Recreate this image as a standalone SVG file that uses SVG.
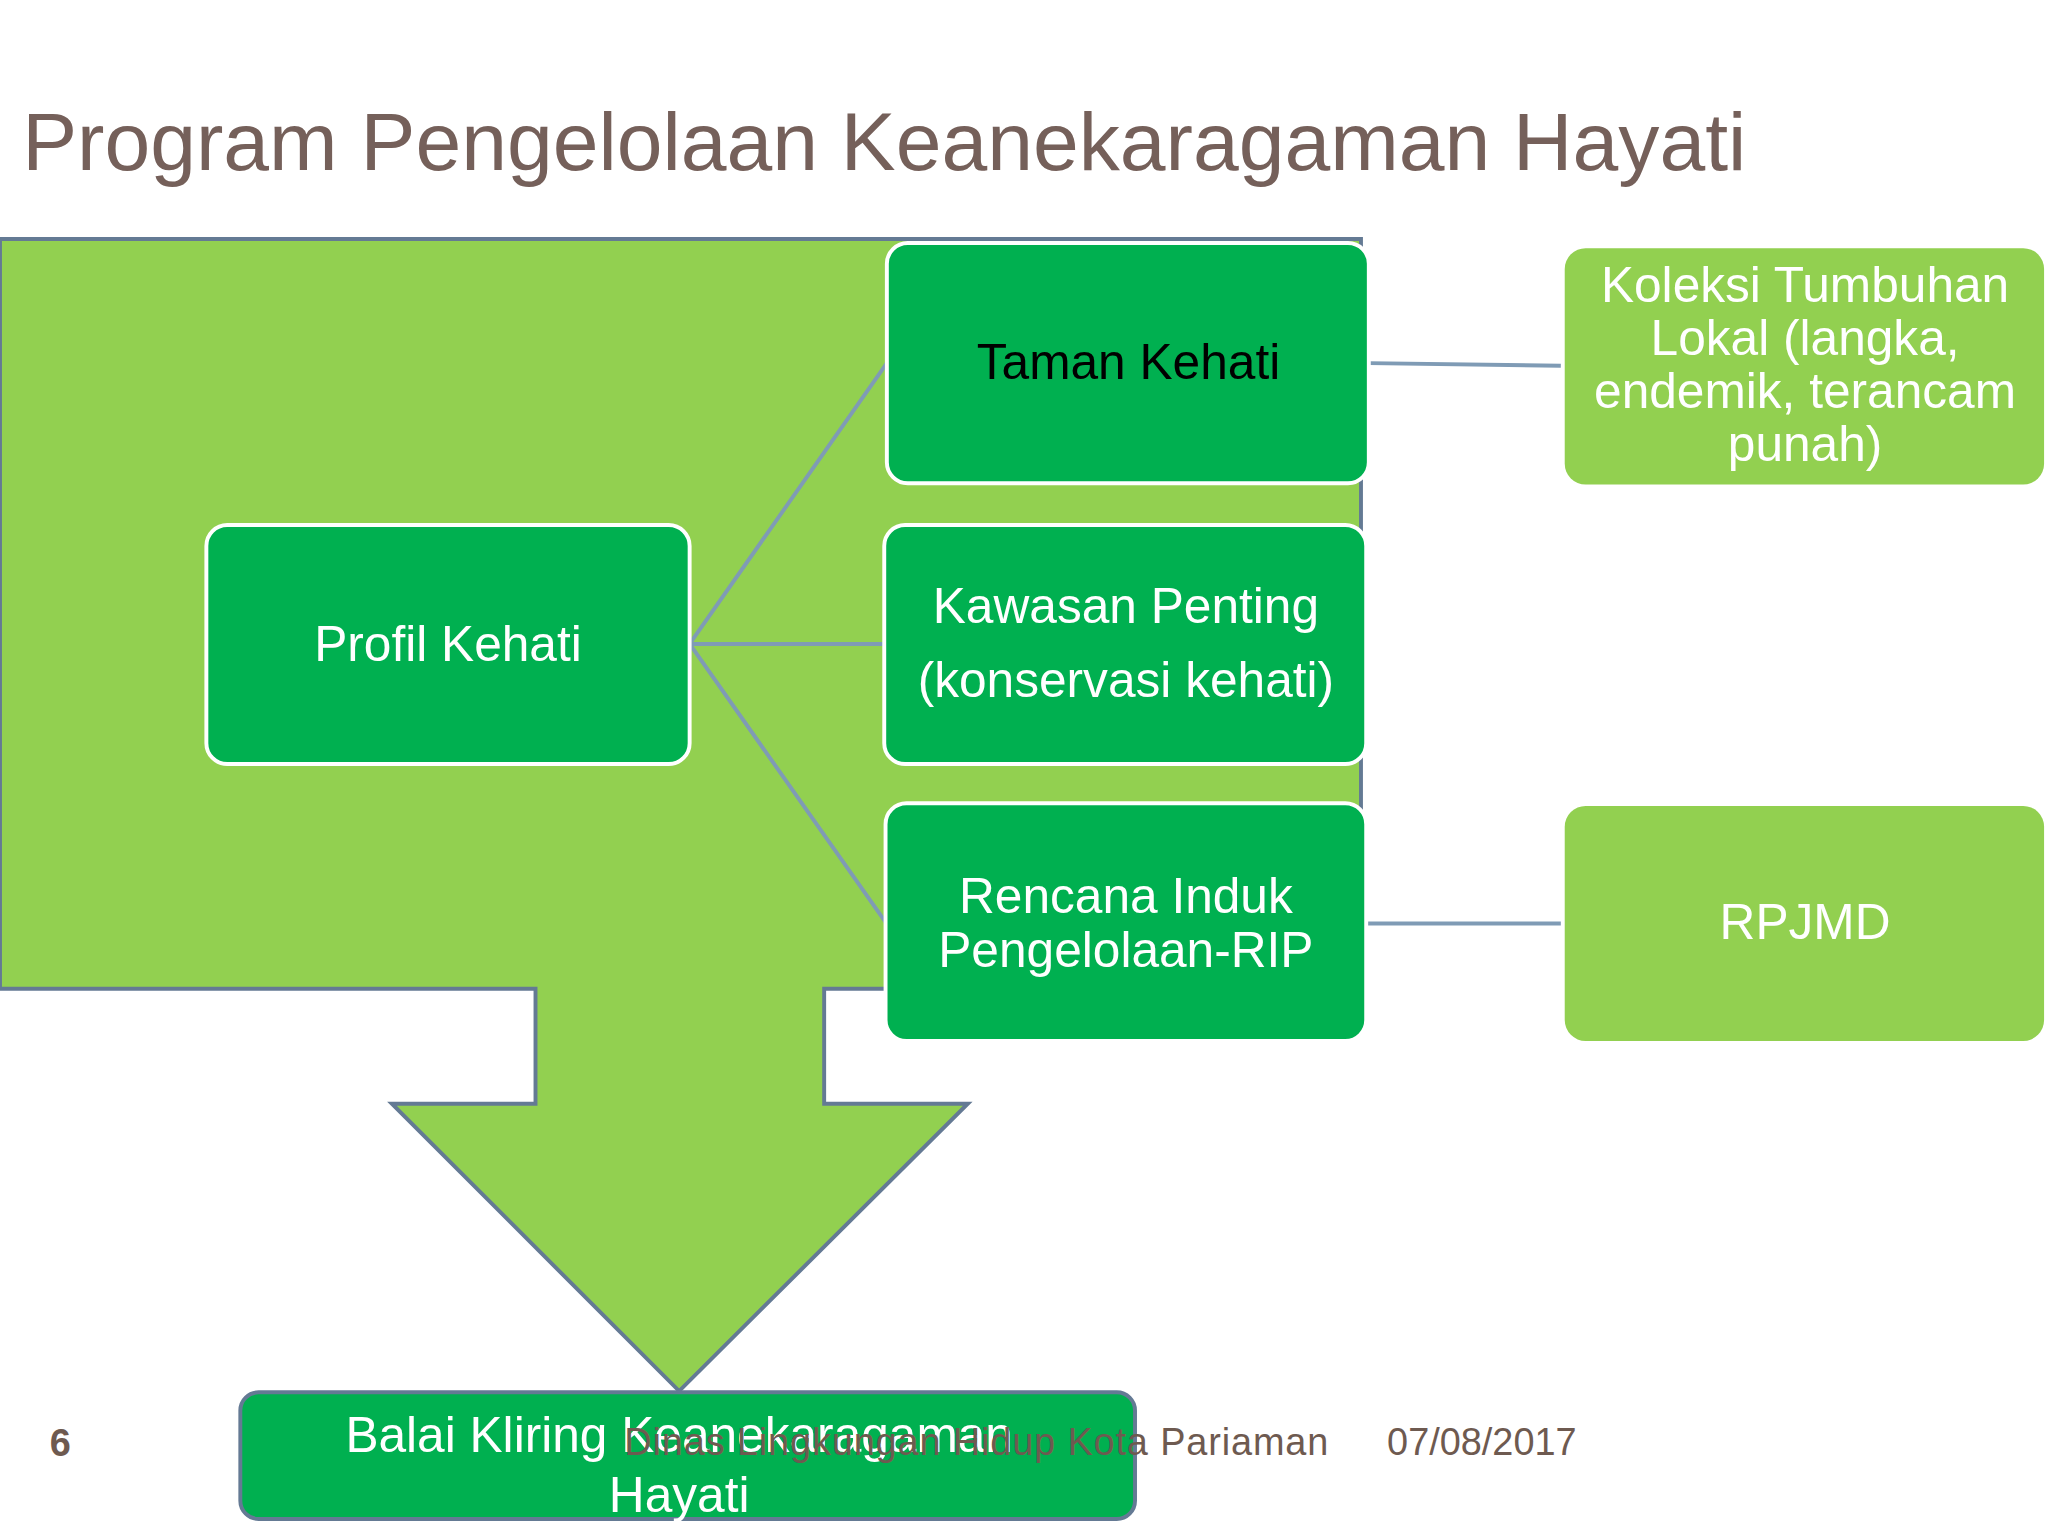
<svg xmlns="http://www.w3.org/2000/svg" width="2048" height="1536" viewBox="0 0 2048 1536">
<style>
text{font-family:"Liberation Sans",Arial,sans-serif;}
.dk{fill:#00B050;stroke:#ffffff;stroke-width:3;}
.lt{fill:#92D050;stroke:none;}
.w{fill:#ffffff;font-size:38px;text-anchor:middle;}
.c{stroke:#7f9bb5;stroke-width:3;fill:none;}
.ft{fill:#6e5a50;font-size:29px;}
</style>
<rect width="2048" height="1536" fill="#ffffff"/>
<g transform="scale(1.30612)">
<text x="17" y="130" font-size="63" fill="#75605a">Program Pengelolaan Keanekaragaman Hayati</text>
<g id="bigarrow"><path d="M0,183 H1042 V757 H631 V845 H741 L520,1065 L300,845 H410 V757 H0 Z" fill="#92D050" stroke="#647a94" stroke-width="3"/></g>
<g id="connectors">
<path class="c" d="M528,493 L679,278 M528,493 H677 M528,493 L678,706 M1048,278 L1195,280 M1046,707 H1195"/>
</g>
<g id="profil"><rect class="dk" x="158" y="402" width="370" height="183" rx="16"/><text class="w" x="343" y="506">Profil Kehati</text></g>
<g id="taman"><rect class="dk" x="679" y="186" width="369" height="184" rx="16"/><text class="w" x="864" y="290" style="fill:#000">Taman Kehati</text></g>
<g id="kawasan"><rect class="dk" x="677" y="402" width="369" height="183" rx="16"/><text class="w" x="862" y="477">Kawasan Penting</text><text class="w" x="862" y="534">(konservasi kehati)</text></g>
<g id="rencana"><rect class="dk" x="678" y="615" width="368" height="182" rx="16"/><text class="w" x="862" y="699">Rencana Induk</text><text class="w" x="862" y="740">Pengelolaan-RIP</text></g>
<g id="koleksi"><rect class="lt" x="1198" y="190" width="367" height="181" rx="16"/>
<text class="w" x="1382" y="231" font-size="37">Koleksi Tumbuhan</text><text class="w" x="1382" y="272" font-size="37">Lokal (langka,</text><text class="w" x="1382" y="312" font-size="37">endemik, terancam</text><text class="w" x="1382" y="353" font-size="37">punah)</text></g>
<g id="rpjmd"><rect class="lt" x="1198" y="617" width="367" height="180" rx="16"/><text class="w" x="1382" y="719">RPJMD</text></g>
<g id="balai"><rect x="184" y="1066" width="685" height="97" rx="14" fill="#00B050" stroke="#647a94" stroke-width="3"/><text class="w" x="520" y="1112">Balai Kliring Keanekaragaman</text><text class="w" x="520" y="1158">Hayati</text></g>
<text class="ft" x="38" y="1115" font-weight="bold">6</text>
<text class="ft" x="478" y="1114" textLength="539">Dinas Lingkungan Hidup Kota Pariaman</text>
<text class="ft" x="1062" y="1114">07/08/2017</text>
</g>
</svg>
